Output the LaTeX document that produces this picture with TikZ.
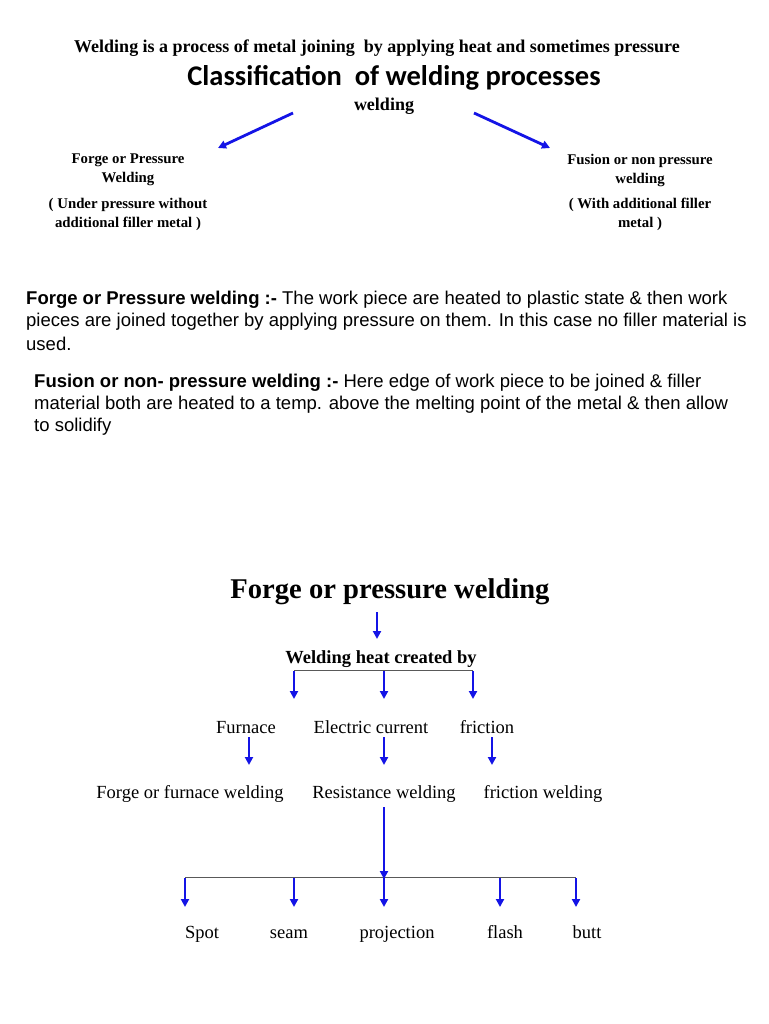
\documentclass[tikz,border=0pt]{standalone}
\usepackage{fontspec}
\setmainfont{Liberation Serif}
\newfontfamily\arialf{Liberation Sans}
\newfontfamily\calib{Carlito}
\usetikzlibrary{arrows.meta}
\begin{document}
\begin{tikzpicture}[x=1pt,y=-1pt,
  arr/.style={draw={rgb,255:red,20;green,20;blue,230},line width=2.8pt,-{Triangle[length=8pt,width=8pt]}},
  bar/.style={draw=gray!70!black,line width=1pt},
  lab/.style={font=\fontsize{18.5}{22}\selectfont,inner sep=1pt,anchor=base},
  sm/.style={font=\bfseries\fontsize{14.8}{19}\selectfont,align=center,inner sep=1pt},
  par/.style={font=\arialf\fontsize{18.5}{22}\selectfont,anchor=west,inner sep=0pt}]
\useasboundingbox[fill=white] (0,0) rectangle (768,1024);
\node[font=\bfseries\fontsize{18}{20}\selectfont] (intro) at (377,48) {Welding is a process of metal joining \ by applying heat and sometimes pressure};
\node[font=\calib\bfseries\fontsize{28.5}{30}\selectfont] (title) at (394,78) {Classification \ of welding processes};
\node[font=\bfseries\fontsize{18}{20}\selectfont] (weld) at (384,106) {welding};
\coordinate (la) at (293,113); \coordinate (lb) at (218,148);
\coordinate (ra) at (474,113); \coordinate (rb) at (550,148);
\draw[arr] (la) -- (lb);
\draw[arr] (ra) -- (rb);
\node[sm] (forge) at (128,170) {Forge or Pressure\\Welding};
\node[sm] (fusion) at (640,170) {Fusion or non pressure\\welding};
\node[sm] (forged) at (128,214) {( Under pressure without\\additional filler metal )};
\node[sm] (fusiond) at (640,214) {( With additional filler\\metal )};
\node[par] (p1) at (26,300) {\bfseries Forge or Pressure welding :- \mdseries The work piece are heated to plastic state \& then work};
\node[par] (p2) at (26,322) {pieces are joined together by applying pressure on them. In this case no filler material is};
\node[par] (p3) at (26,344) {used.};
\node[par] (q1) at (34,383) {\bfseries Fusion or non- pressure welding :- \mdseries Here edge of work piece to be joined \& filler};
\node[par] (q2) at (34,405) {material both are heated to a temp. above the melting point of the metal \& then allow};
\node[par] (q3) at (34,427) {to solidify};
\node[font=\bfseries\fontsize{28.6}{30}\selectfont] (fp) at (390,592) {Forge or pressure welding};
\node[lab,font=\bfseries\fontsize{18.5}{22}\selectfont] (heat) at (381,663) {Welding heat created by};
\coordinate (fpa) at (377,612); \coordinate (fpb) at (377,639);
\draw[arr] (fpa) -- (fpb);
\draw[bar] (294,670) -- (473,670);
\node[lab] (fur) at (246,733) {Furnace};
\node[lab] (ele) at (371,733) {Electric current};
\node[lab] (fri) at (487,733) {friction};
\draw[arr] (294,671) -- (294,699);
\draw[arr] (384,671) -- (384,699);
\draw[arr] (473,671) -- (473,699);
\node[lab] (ffw) at (190,798) {Forge or furnace welding};
\node[lab] (res) at (384,798) {Resistance welding};
\node[lab] (frw) at (543,798) {friction welding};
\draw[arr] (249,737) -- (249,765);
\draw[arr] (384,737) -- (384,765);
\draw[arr] (492,737) -- (492,765);
\draw[bar] (185,877) -- (576,877);
\draw[arr] (384,807) -- (384,879);
\foreach \x in {185,294,384,500,576} \draw[arr] (\x,878) -- (\x,907);
\node[lab] (spot) at (202,938) {Spot};
\node[lab] (seam) at (289,938) {seam};
\node[lab] (proj) at (397,938) {projection};
\node[lab] (flash) at (505,938) {flash};
\node[lab] (butt) at (587,938) {butt};
\end{tikzpicture}
\end{document}
